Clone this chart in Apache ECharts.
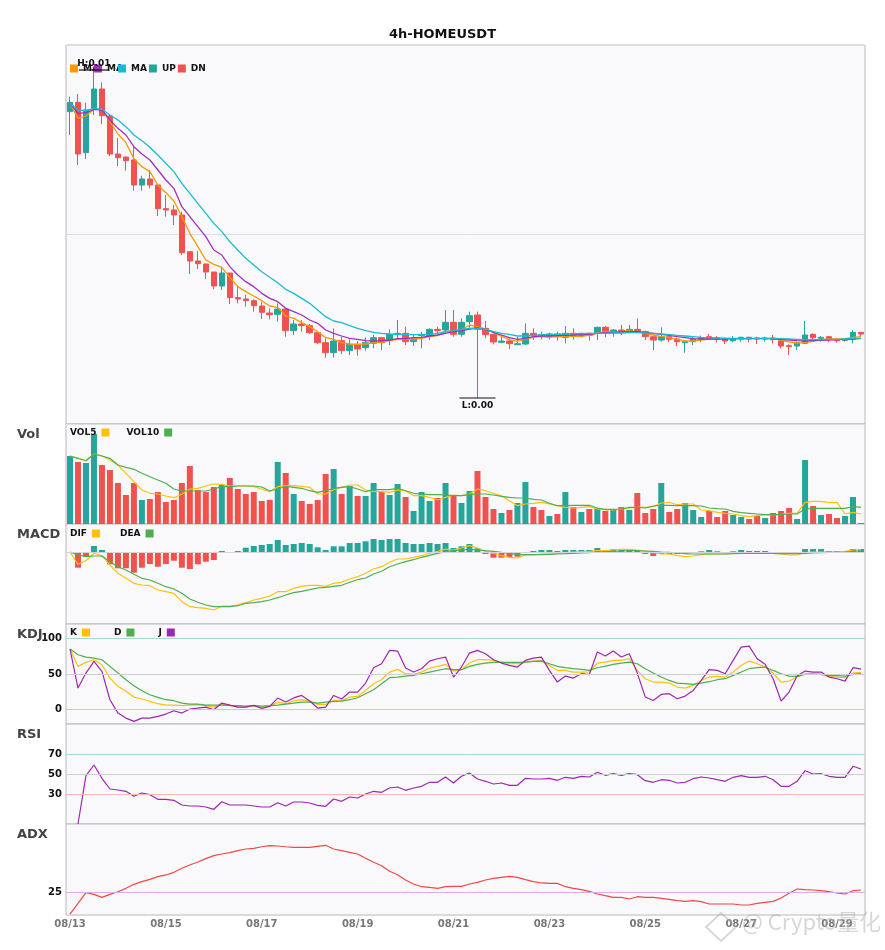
<!DOCTYPE html>
<html><head><meta charset="utf-8">
<script src="https://cdn.jsdelivr.net/npm/echarts@6/dist/echarts.min.js"></script>
<style>html,body{margin:0;padding:0;background:#fff}#c{width:885px;height:950px}</style>
</head><body><div id="c"></div>
<script>
// ---- 4h candles, 08/13 00:00 .. 08/29 12:00 (prices in USDT) ----
const open = [0.01337,0.01365,0.01214,0.01347,0.01405,0.01324,0.01210,0.01201,0.01192,0.01117,
 0.01135,0.01117,0.01046,0.01042,0.01027,0.00917,0.00889,0.00880,0.00856,0.00814,
 0.00853,0.00779,0.00775,0.00770,0.00754,0.00733,0.00729,0.00745,0.00680,0.00700,
 0.00695,0.00674,0.00644,0.00614,0.00650,0.00620,0.00639,0.00629,0.00642,0.00659,
 0.00650,0.00668,0.00672,0.00647,0.00665,0.00665,0.00684,0.00682,0.00705,0.00669,
 0.00707,0.00727,0.00687,0.00669,0.00645,0.00649,0.00638,0.00640,0.00672,0.00667,
 0.00664,0.00670,0.00660,0.00672,0.00665,0.00672,0.00672,0.00690,0.00677,0.00682,
 0.00675,0.00684,0.00677,0.00662,0.00652,0.00662,0.00655,0.00644,0.00647,0.00655,
 0.00662,0.00659,0.00655,0.00650,0.00655,0.00660,0.00658,0.00655,0.00658,0.00650,
 0.00635,0.00634,0.00642,0.00669,0.00657,0.00662,0.00654,0.00651,0.00654,0.00675];
const close = [0.01365,0.01210,0.01342,0.01405,0.01325,0.01210,0.01199,0.01190,0.01117,0.01135,
 0.01117,0.01046,0.01042,0.01027,0.00914,0.00889,0.00881,0.00856,0.00814,0.00853,
 0.00779,0.00775,0.00770,0.00755,0.00735,0.00728,0.00745,0.00680,0.00700,0.00695,
 0.00674,0.00644,0.00614,0.00649,0.00620,0.00639,0.00625,0.00644,0.00659,0.00644,
 0.00669,0.00672,0.00647,0.00657,0.00669,0.00684,0.00680,0.00705,0.00669,0.00705,
 0.00725,0.00684,0.00668,0.00646,0.00649,0.00641,0.00641,0.00672,0.00665,0.00664,
 0.00670,0.00662,0.00672,0.00665,0.00672,0.00666,0.00690,0.00677,0.00682,0.00675,
 0.00684,0.00675,0.00662,0.00652,0.00662,0.00654,0.00647,0.00647,0.00655,0.00659,
 0.00655,0.00654,0.00649,0.00655,0.00660,0.00655,0.00655,0.00658,0.00653,0.00634,
 0.00632,0.00644,0.00667,0.00659,0.00660,0.00654,0.00650,0.00653,0.00675,0.00670];
const high = [0.01382,0.01390,0.01364,0.01462,0.01425,0.01327,0.01258,0.01202,0.01234,0.01145,
 0.01162,0.01117,0.01087,0.01057,0.01037,0.00917,0.00919,0.00880,0.00856,0.00872,
 0.00853,0.00817,0.00787,0.00774,0.00767,0.00747,0.00762,0.00745,0.00712,0.00712,
 0.00700,0.00674,0.00657,0.00687,0.00662,0.00654,0.00649,0.00659,0.00667,0.00660,
 0.00684,0.00712,0.00692,0.00669,0.00677,0.00687,0.00692,0.00742,0.00742,0.00717,
 0.00737,0.00737,0.00709,0.00672,0.00667,0.00657,0.00662,0.00702,0.00687,0.00677,
 0.00674,0.00677,0.00694,0.00687,0.00674,0.00672,0.00692,0.00694,0.00684,0.00697,
 0.00697,0.00717,0.00680,0.00662,0.00690,0.00662,0.00660,0.00652,0.00664,0.00665,
 0.00670,0.00664,0.00660,0.00664,0.00662,0.00662,0.00662,0.00662,0.00667,0.00654,
 0.00639,0.00647,0.00709,0.00672,0.00664,0.00664,0.00657,0.00657,0.00682,0.00675];
const low = [0.01267,0.01177,0.01195,0.01327,0.01300,0.01204,0.01174,0.01160,0.01100,0.01100,
 0.01107,0.01024,0.01022,0.00997,0.00907,0.00850,0.00865,0.00835,0.00804,0.00802,
 0.00760,0.00762,0.00752,0.00737,0.00715,0.00714,0.00707,0.00662,0.00667,0.00677,
 0.00670,0.00640,0.00599,0.00599,0.00610,0.00607,0.00605,0.00620,0.00627,0.00622,
 0.00637,0.00657,0.00637,0.00634,0.00627,0.00652,0.00672,0.00674,0.00662,0.00662,
 0.00687,0.00478,0.00657,0.00639,0.00642,0.00625,0.00637,0.00637,0.00652,0.00654,
 0.00654,0.00650,0.00642,0.00654,0.00660,0.00650,0.00652,0.00660,0.00662,0.00667,
 0.00672,0.00675,0.00652,0.00622,0.00647,0.00645,0.00634,0.00614,0.00637,0.00645,
 0.00652,0.00645,0.00640,0.00645,0.00647,0.00645,0.00640,0.00647,0.00642,0.00627,
 0.00607,0.00622,0.00640,0.00654,0.00647,0.00645,0.00644,0.00647,0.00642,0.00664];
const ma5 = [0.01362,0.01317,0.01324,0.01344,0.01344,0.01307,0.01270,0.01244,0.01196,0.01172,
 0.01157,0.01117,0.01094,0.01069,0.01022,0.00972,0.00932,0.00892,0.00879,0.00870,
 0.00840,0.00812,0.00797,0.00784,0.00770,0.00754,0.00750,0.00724,0.00717,0.00704,
 0.00692,0.00677,0.00659,0.00654,0.00644,0.00640,0.00639,0.00640,0.00644,0.00645,
 0.00650,0.00654,0.00655,0.00655,0.00657,0.00662,0.00665,0.00677,0.00680,0.00682,
 0.00697,0.00692,0.00685,0.00675,0.00663,0.00653,0.00648,0.00655,0.00660,0.00662,
 0.00660,0.00662,0.00662,0.00664,0.00662,0.00667,0.00673,0.00676,0.00676,0.00677,
 0.00680,0.00677,0.00672,0.00667,0.00662,0.00659,0.00654,0.00649,0.00649,0.00652,
 0.00655,0.00657,0.00657,0.00656,0.00655,0.00656,0.00657,0.00657,0.00656,0.00652,
 0.00646,0.00643,0.00644,0.00648,0.00653,0.00655,0.00655,0.00656,0.00660,0.00662];
const ma10 = [0.01362,0.01332,0.01334,0.01344,0.01342,0.01312,0.01287,0.01267,0.01232,0.01210,
 0.01192,0.01162,0.01132,0.01107,0.01052,0.01022,0.00992,0.00962,0.00922,0.00907,
 0.00872,0.00847,0.00827,0.00812,0.00792,0.00777,0.00767,0.00747,0.00737,0.00727,
 0.00712,0.00702,0.00682,0.00672,0.00664,0.00657,0.00654,0.00650,0.00649,0.00650,
 0.00652,0.00656,0.00656,0.00659,0.00660,0.00664,0.00667,0.00672,0.00677,0.00680,
 0.00685,0.00688,0.00684,0.00675,0.00667,0.00659,0.00654,0.00657,0.00662,0.00664,
 0.00664,0.00665,0.00666,0.00667,0.00668,0.00669,0.00672,0.00674,0.00675,0.00676,
 0.00677,0.00677,0.00675,0.00672,0.00669,0.00666,0.00662,0.00659,0.00656,0.00655,
 0.00655,0.00655,0.00655,0.00656,0.00656,0.00656,0.00656,0.00656,0.00656,0.00654,
 0.00652,0.00650,0.00649,0.00650,0.00651,0.00652,0.00653,0.00653,0.00655,0.00657];
const ma20 = [0.01362,0.01342,0.01340,0.01347,0.01344,0.01327,0.01312,0.01292,0.01267,0.01250,
 0.01230,0.01207,0.01182,0.01157,0.01122,0.01092,0.01062,0.01032,0.01002,0.00977,
 0.00947,0.00922,0.00897,0.00877,0.00857,0.00840,0.00824,0.00804,0.00792,0.00777,
 0.00762,0.00742,0.00722,0.00709,0.00704,0.00695,0.00687,0.00680,0.00675,0.00672,
 0.00670,0.00669,0.00668,0.00668,0.00668,0.00669,0.00672,0.00677,0.00680,0.00684,
 0.00687,0.00687,0.00684,0.00677,0.00672,0.00669,0.00664,0.00664,0.00666,0.00668,
 0.00669,0.00669,0.00670,0.00671,0.00671,0.00672,0.00672,0.00672,0.00673,0.00673,
 0.00674,0.00674,0.00673,0.00672,0.00670,0.00668,0.00666,0.00664,0.00662,0.00660,
 0.00659,0.00658,0.00657,0.00657,0.00657,0.00657,0.00657,0.00657,0.00657,0.00656,
 0.00655,0.00654,0.00653,0.00653,0.00653,0.00654,0.00654,0.00655,0.00656,0.00657];
// volume (millions)
const volume = [68,62,61,90,59,54,41,29,41,24, 25,32,22,24,41,58,34,32,37,39,
 46,35,30,32,23,24,62,51,30,23, 20,24,50,55,30,38,28,28,41,32,
 29,40,27,13,32,23,26,41,29,21, 33,53,27,15,11,14,21,42,17,14,
 8,10,32,17,12,15,16,13,14,17, 14,31,11,15,41,12,15,21,14,7,
 13,7,13,9,7,5,8,6,11,13, 16,5,64,18,9,10,6,8,27,1];
const vol5 = [68,65.7,63.3,70,68,64,59,50.7,42.3,34, 30.7,30,28,26.3,29.7,35,35.7,38,40,39.7,
 38,38,38,37.3,35,32.3,37.3,38.3,38.3,37.7, 36.7,30,30,34.3,36.7,39,39,34,32.7,32.3,
 31.7,34,33.3,28.3,28.3,26.7,24,26.7,29,28.3, 30,35,33.3,30.7,28.3,23.3,18.3,20,20.7,21.7,
 20,18.3,16.7,16,16.7,17.3,15,14,14,15, 16,16.7,16.7,17.3,21,21.7,19.3,20,20,14,
 13.3,11.7,10.7,10,8.3,7.3,8.3,9,9,9.7, 10.7,10.7,21.7,22.7,22.7,21.3,21.7,10,11.7,10];
const vol10 = [68,65.7,63.3,70,68,65.7,59,56.7,54.7,50.7, 47.3,44,40.7,35,33,33,33,33,35,37.3,
 37.3,38,38,38,37,33,35,37.7,36.7,35.7, 33.3,31.7,33.3,35.7,36.7,37.3,35,32.3,34.3,34.3,
 34.3,35.7,33.3,30.7,30,29.3,29.3,29,28.3,28.3, 29.3,30,30,29,27.7,26.7,26,26,24.7,24,
 20.7,18.3,18.3,18.7,18.7,18.7,16,14.7,14.7,15, 16.7,16.7,16,18,18.7,18.7,18.3,18.3,18.3,18,
 16,15.3,15,12.7,11.3,10.7,10,9.3,9.3,9.3, 10,10,15,15.7,15.7,15.7,15.7,15.7,17.3,16.7];
// MACD (units of 1e-5 USDT)
const macdHist = [0,-15.7,-4.7,6,2,-12.3,-16.3,-16.3,-20.7,-15.7, -12,-14.7,-12,-8.7,-15.7,-17,-12.3,-9.7,-8,1,
 -0.7,1,4.3,6,7,8,12,7,8,9, 8,4.7,2,5.7,5.7,9,9,10.7,13,12,
 13,13,9,8,8,9,8,9,4,5.7, 8,3.7,-2,-5.7,-5.7,-5.3,-4.7,0,1,2,
 2,1,2,2,2,2,4,1.3,2.7,2.7, 2,1.3,-2,-4,-2,-2,-2,-2,0,0.7,
 2,0.7,0,0.7,2,1,1,1,0,-1.3, -1.3,-0.7,3,3,3,1,1,0.3,3,3];
const macdDif = [0,-12.3,-8.7,-1.3,-3.7,-13,-21.3,-26.3,-31.3,-33, -33.7,-38,-39.7,-41.3,-49.7,-54.7,-55.7,-56.3,-58,-54,
 -54,-53,-50.7,-48,-46.3,-44,-39.7,-39.7,-36.3,-34.3, -33.3,-33.3,-34.3,-31.3,-30.3,-27,-24.7,-21.3,-17,-14.7,
 -10.3,-7,-7,-5.3,-3.7,-1.3,0.7,3,2,4, 6.3,4,0.3,-1.3,-3.7,-5.3,-6,-3,-3,-2,
 -2,-1.3,-0.7,0,0.3,0.7,1.3,1.3,2,2.7, 2.7,2,0.7,-0.7,-2,-2,-3.7,-4.7,-4,-2.7,
 -2,-2,-2,-1.3,-0.7,-0.7,-1,-1,-1.3,-2, -3,-3,-0.7,0,0,0,0,0.7,2,2.3];
const macdDea = [0,-3,-4.7,-4,-4,-9.7,-14.7,-18,-22.3,-26.3, -28,-31.3,-34.7,-37,-41.3,-47,-50.3,-53,-54.7,-54.7,
 -54.7,-53.7,-51.3,-50.7,-49.7,-48,-45.7,-43,-40.7,-39.3, -37.7,-36,-35.3,-34.3,-33.3,-30.3,-27.7,-26,-22,-19.3,
 -14.7,-12,-9.7,-7.7,-5.3,-3.3,-1.3,0.3,1.3,2, 2.7,2,1.3,0.7,-0.3,-1.3,-2.7,-2.7,-2.7,-2.7,
 -2.3,-2,-1.7,-1.3,-1,-0.7,0,0.3,0.7,1, 1.3,1.3,1,0.7,0,-0.3,-1,-1.7,-2,-2,
 -2,-2,-2,-1.7,-1.3,-1.3,-1.3,-1.3,-1.3,-1.7, -1.7,-1.7,-1.3,-1,-0.7,-0.3,-0.3,0,0.7,1];
const kdjK = [85,60.7,66.3,70,63,44.3,32.7,25.7,17.7,15, 11.7,8.4,6.5,6.5,5.6,6.5,7,5.6,3.7,7,
 5.6,3.7,3.7,5.6,3.7,4.7,10.3,8.4,12.5,14, 12.1,7.5,7.5,13,13,17.7,18.7,27,36.4,42,
 52.7,56.5,50.4,49.4,52.7,58.3,60.7,63.5,54.1,56, 65.3,70,70,69,66.7,64.4,64.4,66.7,68.1,69,
 62,55,55,52.7,52.7,53,65.3,66.7,69,69, 71.4,55,43.4,38.7,38.7,37.3,31.7,30.3,34,41,
 45.7,46.7,45.7,52.7,62,68.1,64.4,59.7,51.3,38.7, 40.1,45.7,50.4,50.4,49.4,46.7,45.7,44.8,51.3,52.2];
const kdjD = [85,77,73.7,72.3,70,60.7,51.3,42,33.6,26.6, 21,17.3,14,12.6,9.3,7.9,7.9,6.5,6.5,6.5,
 6,5.6,5.1,5.6,5.1,5.6,6.5,7.9,9.3,10.7, 10.7,9.3,10.7,11.6,12.1,14,16.8,22.4,28,36.4,
 44.8,45.7,47.1,48.1,50.4,52.7,55,57.4,56,56, 60.7,63.5,65.3,66.3,66.3,66.3,66.3,66.7,67.7,68.1,
 64.4,60.7,58.8,57.4,56.5,55,58.8,61.1,63.5,65.3, 66.7,64.4,57.4,51.3,45.7,41,37.3,36.4,35.4,37.3,
 39.2,42,43.4,48.1,52.7,57.4,58.8,59.7,55,50.4, 47.1,46.7,49.4,49.4,49.4,48.1,47.6,47.1,49.4,50.4];
const kdjJ = [85,30.3,51.3,67.7,53.7,14,-4.7,-11.7,-16.3,-11.7, -11.7,-9.3,-6.1,-1.4,-4.7,1,2.3,3.7,0,9.3,
 6.5,3.7,3.7,6,1.9,4.7,16.3,10.7,16.5,20, 12.1,2.3,3.7,20,14.9,24.7,24.7,37.3,58.8,64.4,
 83.1,82.1,58.3,52.7,57.4,68.1,71.4,73.7,45.7,59.7, 79.3,83.1,78.4,70,65.3,62,59.7,69,72.3,73.7,
 55,38.7,47.1,44.3,50.4,49.2,80.7,75.1,82.1,73.7, 78.4,51.3,17.7,13,21.4,22.4,15.4,19.1,27,41,
 56,55,50.4,69,87.7,89.1,71.4,63.5,43.4,12.1, 24.7,47.1,54.1,52.7,52.7,45.7,43.4,40.1,58.8,56.9];
const rsi = ['-',0,48.3,59,45.7,35,34,32.7,27.7,31, 29.3,24.7,24.7,23.7,19,18,18,17,14.7,22.3,
 19,19,19,18,17,17,21.3,18,22,22, 21,18.7,17.7,25,22.7,27,26,30,32.7,31.7,
 36,37,33.7,36,37.7,41.7,41.7,47,41,47.7, 51,45,42.7,40,41,38.7,38.7,45.7,45,45,
 45.7,43.7,46.7,45.7,47.7,47,51.7,48.7,50.3,48.7, 50.3,49.3,43.3,41.7,44.3,43.7,41,41.7,45.3,47,
 46,44.3,42.7,46.7,48.3,46.7,46.7,47.7,44.3,37.7, 37.7,42.7,53.3,50,50.3,47.7,46.7,46.7,57.7,55];
const adx = [1,12.8,24.5,22.7,19.4,22.7,25.6,29.3,33.7,36.6, 39.2,42.1,44,46.9,51.3,54.9,58.2,61.9,65.2,67,
 68.5,70.7,72.5,73.3,75,76.2,75.8,75,74.4,74.4, 74.4,75.5,76.6,72.5,70.7,68.9,67,62.3,57.9,54.2,
 48,44.3,38.5,34.1,31.1,30.4,29.3,31.1,31.5,31.5, 34.1,35.9,38.5,40.3,41.4,42.5,41.4,38.8,36.6,35.2,
 34.8,34.8,31.1,29.3,27.8,26,23.1,21.2,19.4,19.4, 17.6,20.1,19.4,19.4,18.3,17.2,15.8,15,15.8,14.7,
 12.1,12.1,12.1,12.1,11,11,12.8,13.9,15,18.7, 23.8,28.6,27.8,27.5,26.7,25.6,24.2,23.1,26.7,27.5];
const kdjTicks = [0, 50, 100];
const rsiTicks = [30, 50, 70];
const adxTicks = [25];

// categories: 4h bars from 2025-08-13 00:00
const categories = [];
for (let i = 0; i < open.length; i++) {
  const d = new Date(Date.UTC(2025, 7, 13, i * 4));
  const mm = String(d.getUTCMonth() + 1).padStart(2, '0');
  const dd = String(d.getUTCDate()).padStart(2, '0');
  const hh = String(d.getUTCHours()).padStart(2, '0');
  categories.push(mm + '/' + dd + ' ' + hh + ':00');
}

const UP = '#26A69A', DN = '#EF5350';
const YEL = '#FFC107', GRN = '#4CAF50', PUR = '#9C27B0';
const candle = open.map((o, i) => [o, close[i], low[i], high[i]]);
const hiIdx = high.indexOf(Math.max(...high));
const loIdx = low.indexOf(Math.min(...low));
const volData = volume.map((v, i) => ({value: v, itemStyle: {color: close[i] >= open[i] ? UP : DN}}));
const histData = macdHist.map(v => ({value: v, itemStyle: {color: v >= 0 ? UP : DN}}));

const FONT = 'DejaVu Sans';
const L = 66, W = 799;
const grids = [
  {left: L, width: W, top: 45, height: 379},
  {left: L, width: W, top: 424, height: 100},
  {left: L, width: W, top: 524, height: 100},
  {left: L, width: W, top: 624, height: 100},
  {left: L, width: W, top: 724, height: 100},
  {left: L, width: W, top: 824, height: 91}
].map(g => Object.assign({show: true, backgroundColor: '#f9f9fb', borderColor: '#b8b8bc', borderWidth: 1}, g));

const xAxes = grids.map((g, i) => ({
  type: 'category', gridIndex: i, data: categories, boundaryGap: true,
  axisLine: {show: false}, axisTick: {show: false}, splitLine: {show: false},
  axisLabel: i === 5 ? {show: true, interval: 11, formatter: v => v.slice(0, 5), color: '#777', fontWeight: 'bold', fontSize: 10, margin: 4, fontFamily: FONT} : {show: false}
}));

const lblStyle = {color: '#111', fontWeight: 'bold', fontSize: 10, margin: 4, fontFamily: FONT};
const tickFmt = list => v => { const r = Math.round(v); return (Math.abs(v - r) < 1e-6 && list.includes(r)) ? String(r) : ''; };
const hidden = {axisLine: {show: false}, axisTick: {show: false}, splitLine: {show: false}, axisLabel: {show: false}};
const yAxes = [
  Object.assign({}, hidden, {type: 'value', gridIndex: 0, min: 0.004, max: 0.01537, interval: 0.005685,
    splitLine: {show: true, lineStyle: {color: '#dedee2', width: 1}}}),
  Object.assign({}, hidden, {type: 'value', gridIndex: 1, min: 0, max: 100}),
  Object.assign({}, hidden, {type: 'value', gridIndex: 2, min: -72, max: 28}),
  Object.assign({}, hidden, {type: 'value', gridIndex: 3, min: -20, max: 120, interval: 10,
    axisLabel: Object.assign({show: true, formatter: tickFmt(kdjTicks)}, lblStyle)}),
  Object.assign({}, hidden, {type: 'value', gridIndex: 4, min: 0, max: 100, interval: 10,
    axisLabel: Object.assign({show: true, formatter: tickFmt(rsiTicks)}, lblStyle)}),
  Object.assign({}, hidden, {type: 'value', gridIndex: 5, min: 0, max: 100, interval: 5,
    axisLabel: Object.assign({show: true, formatter: tickFmt(adxTicks)}, lblStyle)})
];

const line = (name, data, color, gi, extra) => Object.assign({
  name, type: 'line', data, xAxisIndex: gi, yAxisIndex: gi, showSymbol: false, symbol: 'none',
  smooth: false, lineStyle: {color, width: 1.2}, itemStyle: {color}, silent: true, z: 3
}, extra || {});
const refLines = (vals, colors) => ({
  silent: true, symbol: ['none', 'none'], label: {show: false},
  data: vals.map((v, i) => ({yAxis: v, lineStyle: {color: colors[i], width: 1, type: 'solid'}}))
});

const legendBase = {itemWidth: 8, itemHeight: 8, icon: 'rect', padding: 0,
  textStyle: {fontSize: 9, fontWeight: 'bold', color: '#111', fontFamily: FONT}};
const maFmt = n => n.indexOf('MA') === 0 ? 'MA' : n;

const titleStyle = {fontSize: 13, fontWeight: 'bold', color: '#444', fontFamily: FONT};
const option = {
  animation: false,
  backgroundColor: '#ffffff',
  textStyle: {fontFamily: FONT},
  title: [
    {text: '4h-HOMEUSDT', left: 'center', top: 28, padding: 0, textStyle: {fontSize: 13, fontWeight: 'bold', color: '#111', fontFamily: FONT}},
    {text: 'Vol', left: 17, top: 428, padding: 0, textStyle: titleStyle},
    {text: 'MACD', left: 17, top: 528, padding: 0, textStyle: titleStyle},
    {text: 'KDJ', left: 17, top: 628, padding: 0, textStyle: titleStyle},
    {text: 'RSI', left: 17, top: 728, padding: 0, textStyle: titleStyle},
    {text: 'ADX', left: 17, top: 828, padding: 0, textStyle: titleStyle}
  ],
  legend: [
    Object.assign({}, legendBase, {left: 70, top: 64, itemGap: -5, data: ['MA5', 'MA10'], formatter: maFmt}),
    Object.assign({}, legendBase, {left: 118, top: 64, itemGap: 2, data: ['MA20', 'UP', 'DN'], formatter: maFmt}),
    Object.assign({}, legendBase, {left: 70, top: 428, itemGap: 17, align: 'right', data: ['VOL5', 'VOL10']}),
    Object.assign({}, legendBase, {left: 70, top: 529, itemGap: 20, align: 'right', data: ['DIF', 'DEA']}),
    Object.assign({}, legendBase, {left: 70, top: 628, itemGap: 24, align: 'right', data: ['K', 'D', 'J']})
  ],
  grid: grids,
  xAxis: xAxes,
  yAxis: yAxes,
  series: [
    {name: 'HOMEUSDT', type: 'candlestick', data: candle, xAxisIndex: 0, yAxisIndex: 0, barWidth: 6,
      itemStyle: {color: UP, color0: DN, borderColor: UP, borderColor0: DN, borderWidth: 1}, z: 2,
      markPoint: {silent: true, symbol: 'rect', itemStyle: {color: '#111'},
        data: [
          {coord: [hiIdx, high[hiIdx]], value: high[hiIdx], symbolSize: [30, 1.2],
            label: {show: true, position: 'top', distance: 1, formatter: p => 'H:' + p.value.toFixed(2), color: '#111', fontWeight: 'bold', fontSize: 9, fontFamily: FONT}},
          {coord: [loIdx, low[loIdx]], value: low[loIdx], symbolSize: [36, 1.2],
            label: {show: true, position: 'bottom', distance: 3, formatter: p => 'L:' + p.value.toFixed(2), color: '#111', fontWeight: 'bold', fontSize: 9, fontFamily: FONT}}
        ]}},
    line('MA5', ma5, '#FF9800', 0, {lineStyle: {color: '#FF9800', width: 1.3}}),
    line('MA10', ma10, '#A030B8', 0, {lineStyle: {color: '#A030B8', width: 1.3}}),
    line('MA20', ma20, '#14BCD4', 0, {lineStyle: {color: '#14BCD4', width: 1.3}}),
    {name: 'UP', type: 'line', data: [], xAxisIndex: 0, yAxisIndex: 0, itemStyle: {color: UP}, lineStyle: {color: UP}},
    {name: 'DN', type: 'line', data: [], xAxisIndex: 0, yAxisIndex: 0, itemStyle: {color: DN}, lineStyle: {color: DN}},
    {name: 'Volume', type: 'bar', data: volData, xAxisIndex: 1, yAxisIndex: 1, barWidth: 6, silent: true},
    line('VOL5', vol5, YEL, 1),
    line('VOL10', vol10, GRN, 1),
    {name: 'MACD', type: 'bar', data: histData, xAxisIndex: 2, yAxisIndex: 2, barWidth: 6, silent: true,
      markLine: refLines([0], ['#d4d4d8'])},
    line('DIF', macdDif, YEL, 2),
    line('DEA', macdDea, GRN, 2),
    line('K', kdjK, YEL, 3, {markLine: refLines([100, 50, 0], ['#a6d8d0', '#cfcfd3', '#ffb4b4'])}),
    line('D', kdjD, GRN, 3),
    line('J', kdjJ, PUR, 3),
    line('RSI', rsi, PUR, 4, {markLine: refLines([70, 50, 30], ['#a6d8d0', '#cfcfd3', '#ffb4b4'])}),
    line('ADX', adx, '#F04848', 5, {markLine: refLines([25], ['#dcaee4'])})
  ],
  graphic: [
    {type: 'polygon', z: 100, silent: true,
      shape: {points: [[721, 913], [736, 927], [721, 941], [706, 927]]},
      style: {fill: 'none', stroke: 'rgba(175,175,175,0.5)', lineWidth: 2}},
    {type: 'text', z: 100, left: 742, top: 911, silent: true,
      style: {text: '@ Crypto量化', font: '22px "Noto Sans CJK SC"', fill: 'rgba(175,175,175,0.5)'}}
  ]
};

const chart = echarts.init(document.getElementById('c'), null, {renderer: 'canvas'});
chart.setOption(option);
</script>
</body></html>
